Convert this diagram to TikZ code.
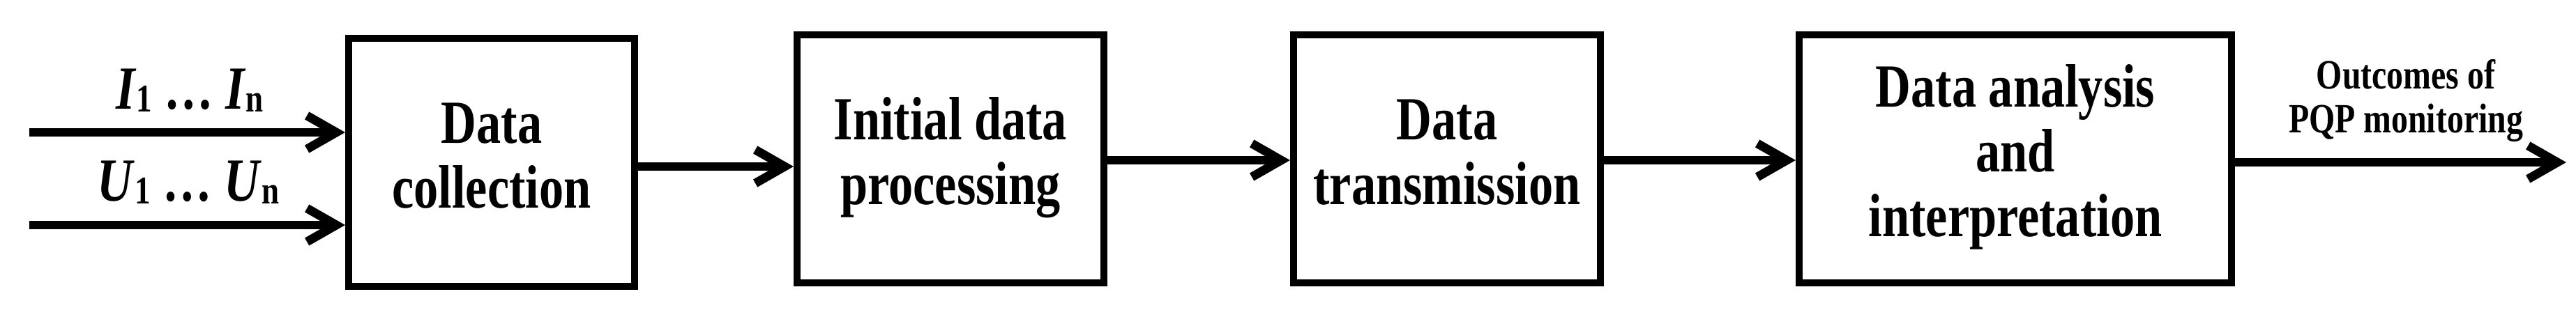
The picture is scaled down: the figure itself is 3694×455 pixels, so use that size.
\documentclass[tikz,border=0pt]{standalone}
\usepackage{fontspec}
\setmainfont{Liberation Serif}
\usetikzlibrary{arrows.meta}
\newcommand{\cond}[2][0.8]{\scalebox{#1}[1]{\begin{tabular}{@{}c@{}}#2\end{tabular}}}
\begin{document}
\begin{tikzpicture}[x=0.01cm,y=-0.01cm,
  blk/.style={draw,line width=2.8pt,minimum width=4.1cm,minimum height=3.55cm,align=center,font=\bfseries\fontsize{25}{26.5}\selectfont,inner sep=0pt},
  arr/.style={line width=3.6pt,-{Straight Barb[length=0.42cm,width=0.48cm,line width=3.6pt]}},
  lbl/.style={font=\bfseries\fontsize{25}{26.5}\selectfont,inner sep=0pt}]
\renewcommand{\arraystretch}{1.0}
\useasboundingbox (0,0) rectangle (3694,455);
\node[blk] (b1) at (705,233) {\cond{Data\\collection}};
\node[blk,minimum width=4.4cm] (b2) at (1363,228) {\cond{Initial data\\processing}};
\node[blk,minimum width=4.4cm] (b3) at (2075,228) {\cond{Data\\transmission}};
\node[blk,minimum width=6.2cm] (b4) at (2890,228) {\cond{Data analysis\\and\\interpretation}};
\coordinate (i1) at (42,190);
\coordinate (u1) at (42,323);
\coordinate (out) at (3680,233);
\draw[arr] (i1) -- (i1 -| b1.west);
\draw[arr] (u1) -- (u1 -| b1.west);
\draw[arr] (b1.east |- 0,239) -- (b2.west |- 0,239);
\draw[arr] (b2.east |- 0,230) -- (b3.west |- 0,230);
\draw[arr] (b3.east |- 0,230) -- (b4.west |- 0,230);
\draw[arr] (b4.east |- out) -- (out);
\node[lbl] (li) at (272,138) {\cond{\textit{I}\raisebox{-0.1ex}{\fontsize{16}{16}\selectfont 1} … \textit{I}\raisebox{-0.1ex}{\fontsize{16}{16}\selectfont n}}};
\node[lbl] (lu) at (270,270) {\cond{\textit{U}\raisebox{-0.1ex}{\fontsize{16}{16}\selectfont 1} … \textit{U}\raisebox{-0.1ex}{\fontsize{16}{16}\selectfont n}}};
\node[font=\bfseries\fontsize{17}{18}\selectfont,inner sep=0pt] (lo) at (3450,146) {\cond{Outcomes of\\PQP monitoring}};
\end{tikzpicture}
\end{document}
